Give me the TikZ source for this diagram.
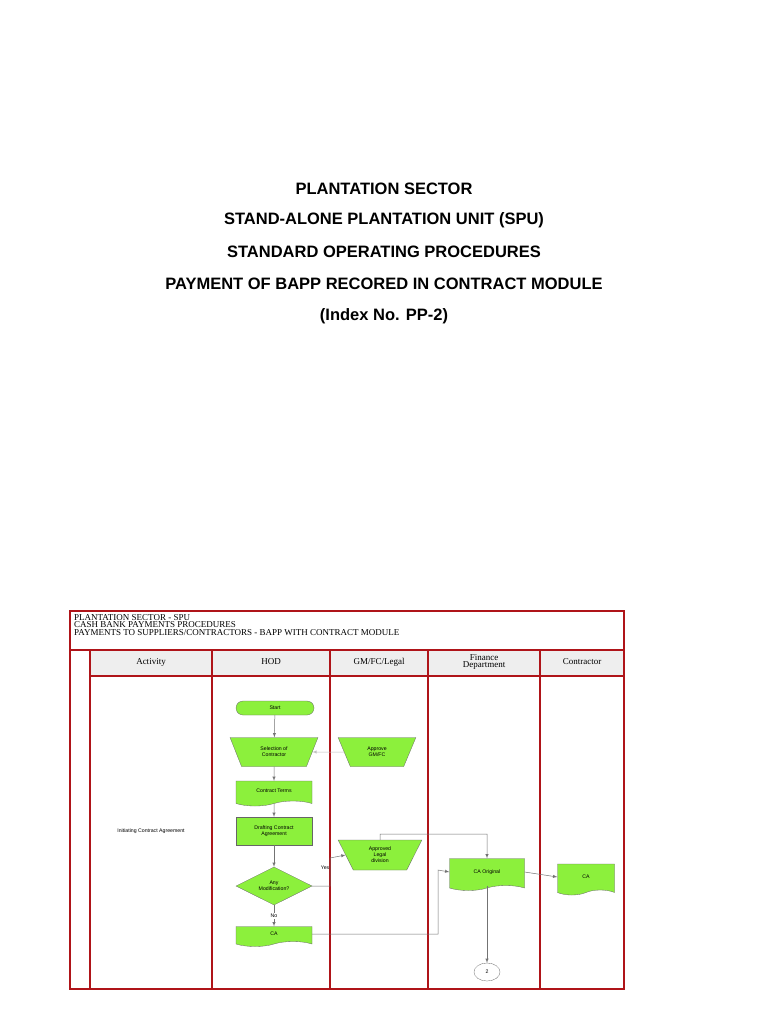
\documentclass[tikz,border=0pt]{standalone}
\usepackage{fontspec}
\setmainfont{Liberation Sans}
\newfontfamily\serifh{Liberation Serif}
\usetikzlibrary{shapes.geometric,shapes.symbols}
\definecolor{lred}{RGB}{175,20,25}
\definecolor{lgreen}{RGB}{140,240,60}
\definecolor{hgrey}{RGB}{238,238,238}
\begin{document}
\begin{tikzpicture}[x=1pt,y=-1pt,
  lane/.style={draw=lred,line width=1.8pt},
  ttl/.style={font=\bfseries\fontsize{16.5}{18}\selectfont,anchor=center},
  hdr/.style={font=\serifh\fontsize{9}{9}\selectfont,align=center},
  ftxt/.style={font=\fontsize{5.2}{6}\selectfont,align=center},
  gshape/.style={draw=black!60,line width=0.3pt,fill=lgreen,ftxt},
  trap/.style={gshape,trapezium,shape border rotate=180,trapezium stretches=true,trapezium left angle=70,trapezium right angle=70},
  conn/.style={draw=black!55,line width=0.5pt,-latex},
  doc/.style={gshape,tape,tape bend top=none}
]
\useasboundingbox (0,0) rectangle (768,1024);
\fill[white] (0,0) rectangle (768,1024);
\node[ttl] (t1) at (384,189) {PLANTATION SECTOR};
\node[ttl] (t2) at (384,220) {STAND-ALONE PLANTATION UNIT (SPU)};
\node[ttl] (t3) at (384,252) {STANDARD OPERATING PROCEDURES};
\node[ttl] (t4) at (384,284) {PAYMENT OF BAPP RECORED IN CONTRACT MODULE};
\node[ttl] (t5) at (384,316) {(Index No. PP-2)};
% frame
\fill[hgrey] (90,650) rectangle (624,676);
\draw[lane] (70,611) rectangle (624,989);
\draw[lane] (70,650) -- (624,650);
\draw[lane] (90,676) -- (624,676);
\foreach \x in {90,212,330,428,540} \draw[lane] (\x,650) -- (\x,989);
\node[hdr,anchor=north west,align=left,inner sep=0pt] (hd) at (74,614) {PLANTATION SECTOR - SPU\\[-1.2pt]CASH BANK PAYMENTS PROCEDURES\\[-1.2pt]PAYMENTS TO SUPPLIERS/CONTRACTORS - BAPP WITH CONTRACT MODULE};
\node[hdr] (c1) at (151,662) {Activity};
\node[hdr] (c2) at (271,662) {HOD};
\node[hdr] (c3) at (379,662) {GM/FC/Legal};
\node[hdr] (c4) at (484,662) {Finance\\[-2pt]Department};
\node[hdr] (c5) at (582,662) {Contractor};
\node[ftxt] (act) at (151,831) {Initiating Contract Agreement};
% shapes
\node[gshape,rounded corners=7pt,minimum width=78pt,minimum height=14pt] (start) at (275,708) {Start};
\node[trap,minimum width=88pt,minimum height=29pt] (sel) at (274,752) {Selection of\\Contractor};
\node[trap,minimum width=78pt,minimum height=29pt] (appr) at (377,752) {Approve\\GM/FC};
\node[doc,minimum width=76pt,minimum height=25pt] (terms) at (274,791) {Contract Terms};
\node[gshape,minimum width=76pt,minimum height=28pt] (draft) at (274,831) {Drafting Contract\\Agreement};
\node[gshape,diamond,aspect=2,minimum width=76pt,minimum height=38pt,inner sep=0pt] (dia) at (274,886) {Any\\Modification?};
\node[trap,minimum width=84pt,minimum height=30pt] (legal) at (380,855) {Approved\\Legal\\division};
\node[doc,minimum width=75pt,minimum height=32pt] (cao) at (487,872) {CA Original};
\node[doc,minimum width=57pt,minimum height=31pt] (cac) at (586,877) {CA};
\node[gshape,minimum width=76pt,minimum height=20pt,tape,tape bend top=none] (cah) at (274,934) {CA};
\node[draw=black!60,line width=0.3pt,ellipse,minimum width=26pt,minimum height=18pt,ftxt] (two) at (487,972) {2};
% connectors
\draw[conn] (start) -- (sel);
\draw[conn,draw=black!25] (appr.west) -- (sel.east);
\draw[conn] (sel) -- (terms);
\draw[conn] (terms) -- (draft);
\draw[conn] (draft) -- (dia);
\draw[conn] (dia.east) -- (330,886) -- (330,858) -- (legal.west) node[pos=0,ftxt,left,yshift=-2pt] {} ;
\node[ftxt] (yes) at (325,868) {Yes};
\draw[conn] (legal.north) -- (380,834) -- (487,834) -- (cao.north);
\draw[conn] (dia.south) -- node[ftxt,fill=white,inner sep=1pt] {No} (cah.north);
\draw[conn] (cah.east) -- (438,934) -- (438,870) -- (cao.west);
\draw[conn] (cao.east) -- (cac.west);
\draw[conn] (cao.south) -- (two.north);
\end{tikzpicture}
\end{document}
